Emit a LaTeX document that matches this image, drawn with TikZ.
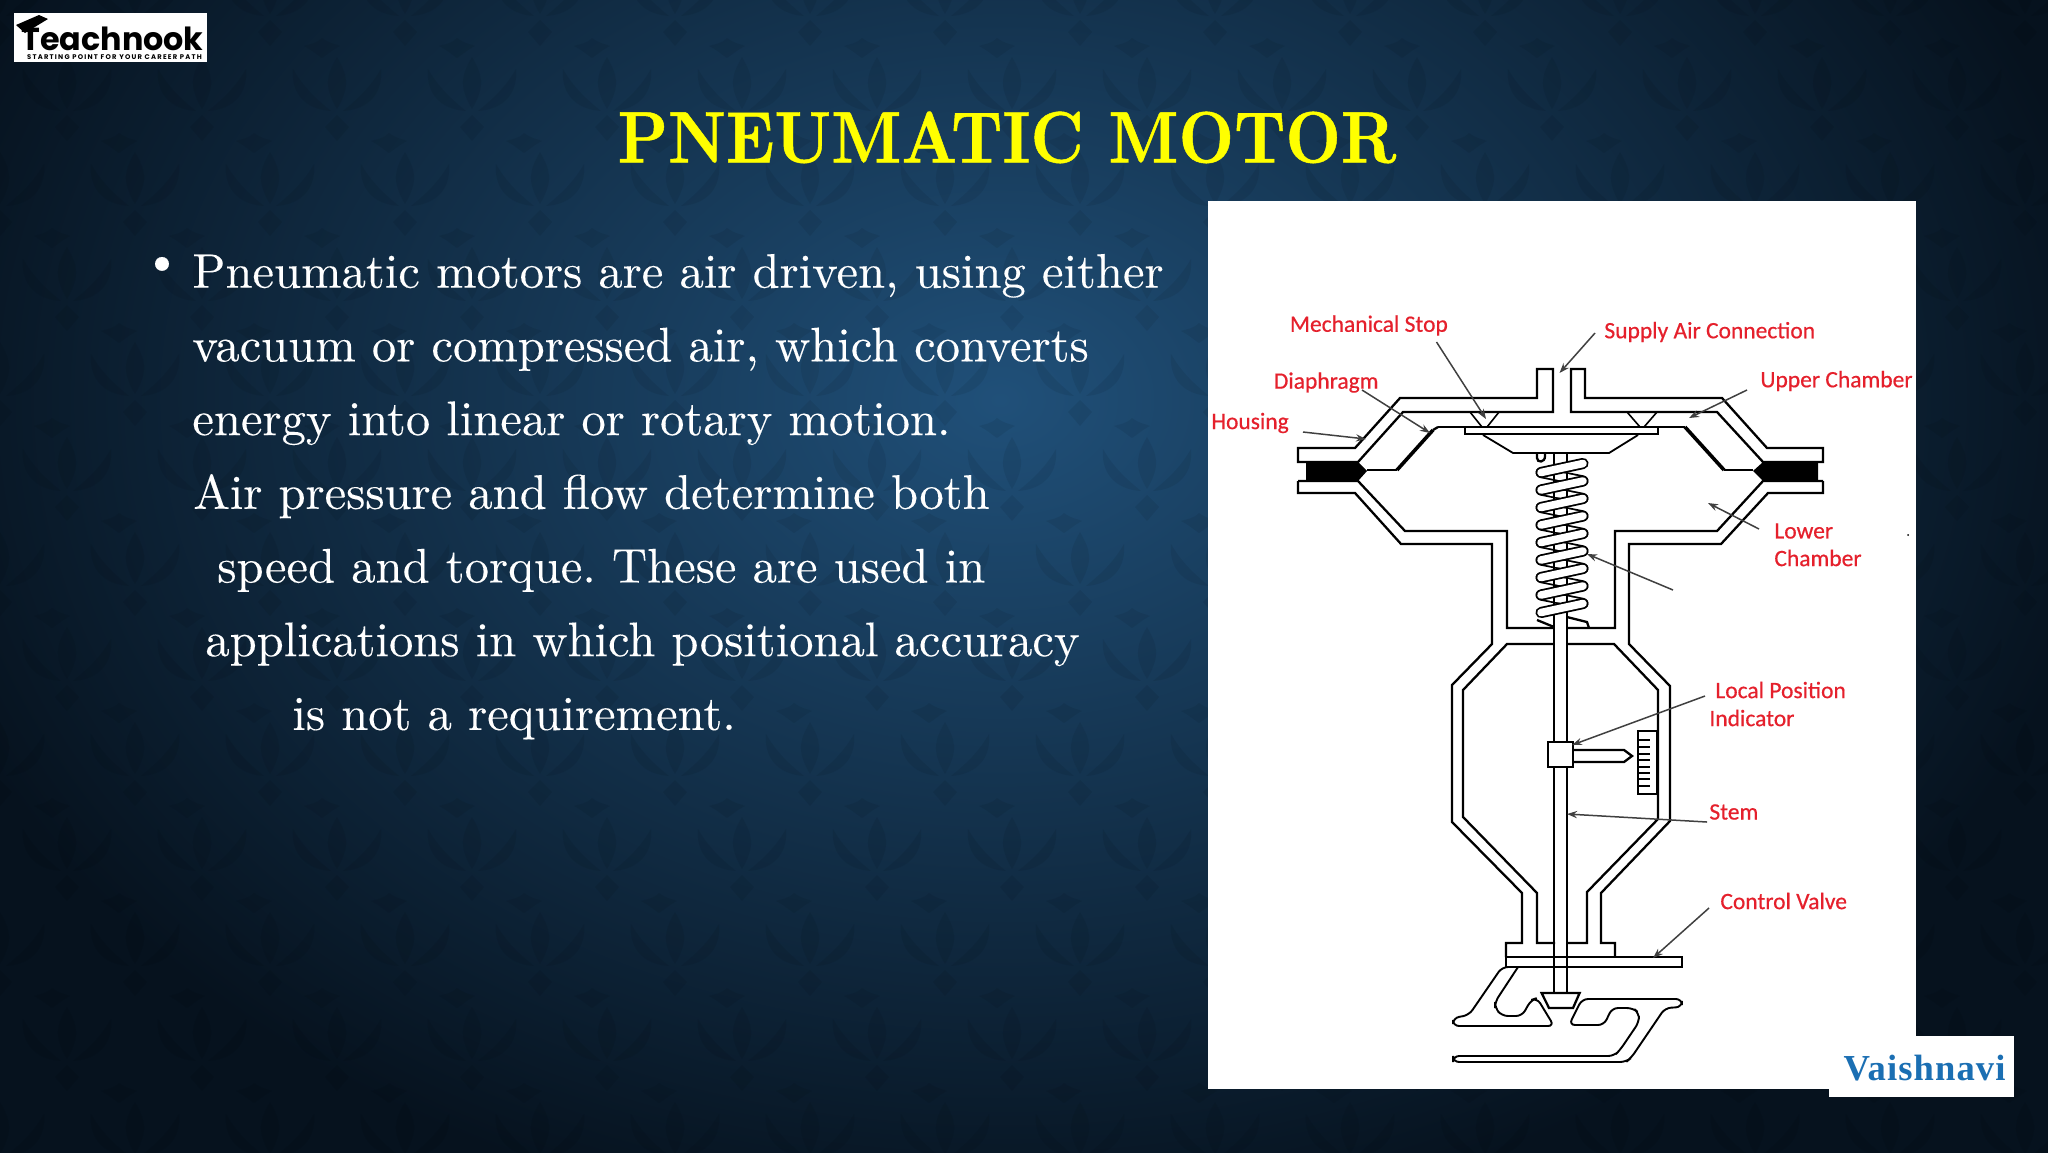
\documentclass[tikz,border=0pt]{standalone}
\usepackage{fontspec}
\usetikzlibrary{arrows.meta}
\newfontfamily\lblfont[FakeBold=0.5]{Carlito}
\newfontfamily\logofont{Poppins}
\newfontfamily\vfont[LetterSpace=3]{Liberation Serif}
\newfontfamily\bodyf[FakeBold=0.15]{lmroman10-regular.otf}
\newfontfamily\titlef[FakeStretch=0.88,FakeBold=0.6]{lmroman10-bold.otf}
\definecolor{bgdark}{HTML}{06121E}
\definecolor{bglight}{HTML}{205079}
\definecolor{lblred}{HTML}{E5202C}
\definecolor{vblue}{HTML}{1B6FB3}
\definecolor{titley}{HTML}{FFFF00}
\tikzset{
  part/.style={draw=black,line width=1.15pt,line join=miter},
  thick part/.style={draw=black,line width=1.8pt},
  lead/.style={draw=black!75,line width=0.75pt,-{Stealth[length=5pt,width=3.6pt]}},
  lbl/.style={font=\lblfont\fontsize{11.75}{14}\selectfont,text=lblred,inner sep=0pt,anchor=west},
  bodyline/.style={font=\bodyf\fontsize{24.3}{28}\selectfont\frenchspacing,text=white,inner sep=0pt,anchor=base west},
  motif/.style={fill=black,opacity=0.07,draw=none}
}
\begin{document}
\begin{tikzpicture}[x=0.5pt,y=-0.5pt]
\useasboundingbox (0,0) rectangle (2048,1152);
\begin{scope}
\clip (-6,-6) rectangle (2054,1158);
\fill[bgdark] (-6,-6) rectangle (2054,1158);
\shade[inner color=bglight,outer color=bgdark] (1000,400) ellipse (1120 and 840);
\foreach \i in {0,...,15}{\foreach \j in {0,...,12}{
  \begin{scope}[shift={({\i*135+(mod(\j,2))*67},{\j*95})}]
    \fill[motif] (0,-38) .. controls (10,-20) and (14,-10) .. (0,14) .. controls (-14,-10) and (-10,-20) .. (0,-38) -- cycle;
    \fill[motif] (6,16) .. controls (26,0) and (36,-12) .. (44,-26) .. controls (46,-4) and (34,14) .. (6,16) -- cycle;
    \fill[motif] (-6,16) .. controls (-26,0) and (-36,-12) .. (-44,-26) .. controls (-46,-4) and (-34,14) .. (-6,16) -- cycle;
    \fill[motif] (0,20) -- (12,32) -- (0,46) -- (-12,32) -- cycle;
    \fill[motif] (52,38) .. controls (60,44) and (66,44) .. (70,46) .. controls (62,50) and (58,54) .. (52,58) .. controls (46,54) and (42,50) .. (34,46) .. controls (40,44) and (46,44) .. (52,38) -- cycle;
  \end{scope}}}
\end{scope}

% logo
\fill[white] (14,13) rectangle (207,62);
\node[font=\logofont\fontsize{15.9}{18}\selectfont\bfseries,inner sep=0pt,anchor=base west] (logotext) at (21,50) {Teachnook};
\fill[black] (16,25) -- (39,15) -- (48,19) -- (25,33) -- cycle;
\node[font=\logofont\fontsize{3.4}{4}\selectfont\bfseries,inner sep=0pt,anchor=center] (logosub) at (114.5,57.5) {\addfontfeature{LetterSpace=18}STARTING POINT FOR YOUR CAREER PATH};

% title
\node[font=\titlef\fontsize{36.5}{40}\selectfont,text=titley,inner sep=0pt,anchor=base] (title) at (1007,162.5) {PNEUMATIC MOTOR};

% body
\node[font=\bodyf\fontsize{24}{28}\selectfont,text=white,inner sep=0pt,anchor=center] (bullet) at (162,266) {\textbullet};
\node[bodyline] (l1) at (192,287.7) {Pneumatic motors are air driven, using either};
\node[bodyline] (l2) at (192,361.4) {vacuum or compressed air, which converts};
\node[bodyline] (l3) at (192,435.1) {energy into linear or rotary motion.};
\node[bodyline] (l4) at (193,508.8) {Air pressure and flow determine both};
\node[bodyline] (l5) at (217,582.5) {speed and torque. These are used in};
\node[bodyline] (l6) at (205,656.2) {applications in which positional accuracy};
\node[bodyline] (l7) at (292,729.9) {is not a requirement.};

% white panel
\fill[white] (1208,201) rectangle (1916,1089);

% spring, back strands
\foreach \yy in {490,507.5,525,542.5,560,577.5,595,612.5}{
  \draw[draw=black,line width=5.6pt,line cap=round] (1583,{\yy-9}) -- (1541,{\yy-17.5});
  \draw[draw=white,line width=3.8pt,line cap=round] (1583,{\yy-9}) -- (1541,{\yy-17.5});
}

% stem
\draw[part] (1554,453) -- (1554,742) (1567,453) -- (1567,742);
\draw[part] (1554,767) -- (1554,993) (1567,767) -- (1567,993);

% spring, front bands
\draw[part] (1537,453) -- (1537,458) .. controls (1537,463) and (1545,463) .. (1545,456) -- (1545,453);
\foreach \yy in {472.5,490,507.5,525,542.5,560,577.5,595,612.5}{
  \draw[draw=black,line width=5.6pt,line cap=round] (1541,\yy) -- (1583,{\yy-9});
  \draw[draw=white,line width=3.8pt,line cap=round] (1541,\yy) -- (1583,{\yy-9});
}
\draw[part] (1537,620) -- (1554,627);
\draw[part] (1567,617) -- (1587,622) -- (1589,628);

% upper housing
\draw[part] (1298,448) -- (1355,448) -- (1400,398) -- (1537,398) -- (1537,369) -- (1553,369) -- (1553,412) -- (1403,412) -- (1358,462) -- (1298,462) -- cycle;
\draw[part] (1571,369) -- (1585,369) -- (1585,398) -- (1722,398) -- (1767,448) -- (1823,448) -- (1823,462) -- (1763,462) -- (1717,412) -- (1571,412) -- cycle;

% lower housing
\draw[part] (1298,481) -- (1358,481) -- (1405,531) -- (1507,531) -- (1507,628) -- (1554,628);
\draw[part] (1823,481) -- (1763,481) -- (1717,531) -- (1615,531) -- (1615,628) -- (1567,628);
\draw[part] (1298,481) -- (1298,493) -- (1355,493) -- (1401,544) -- (1492,544) -- (1492,644) -- (1452,685) -- (1452,822) -- (1522,893) -- (1522,943) -- (1506,943) -- (1506,957);
\draw[part] (1823,481) -- (1823,493) -- (1768,493) -- (1721,544) -- (1629,544) -- (1629,644) -- (1670,686) -- (1670,821) -- (1601,893) -- (1601,943) -- (1615,943) -- (1615,957);
\draw[part] (1554,644) -- (1507,644) -- (1463,690) -- (1463,817) -- (1537,893) -- (1537,943) -- (1555,943);
\draw[part] (1567,644) -- (1614,644) -- (1658,690) -- (1658,819) -- (1587,892) -- (1587,943) -- (1567,943);

% diaphragm seals
\fill[black] (1306,462) -- (1358,462) -- (1367,471) -- (1358,481) -- (1306,481) -- cycle;
\fill[black] (1818,462) -- (1763,462) -- (1753,471) -- (1763,481) -- (1818,481) -- cycle;
\draw[part] (1367,470) -- (1397,470);
\draw[thick part] (1397,470) -- (1433,430);
\draw[part] (1433,430) -- (1438,427);
\draw[thick part,line width=1.4pt] (1438,427) -- (1685,427);
\draw[thick part] (1685,427) -- (1724,470);
\draw[part] (1724,470) -- (1753,470);

% plate
\draw[part] (1465,427) -- (1465,434) -- (1658,434) -- (1658,427);
\draw[part,line width=0.9pt] (1483,435) -- (1513,453) -- (1609,453) -- (1638,435);

% mechanical stops
\draw[part,line width=0.8pt] (1470,412) -- (1482,427) (1499,412) -- (1487,427);
\draw[part,line width=0.8pt] (1627,412) -- (1640,427) (1657,412) -- (1644,427);

% position indicator
\draw[part,fill=white] (1548,742) rectangle (1573,767);
\draw[part] (1573,750) -- (1624,750) -- (1632,756) -- (1624,762) -- (1573,762);
\draw[part] (1638,731) rectangle (1657,794);
\foreach \ty in {740,747,754,760,767,773,779,786}{
  \draw[part,line width=0.8pt] (1638,\ty) -- (1650,\ty);
}

% flange
\draw[part] (1506,957) -- (1682,957) -- (1682,967) -- (1506,967) -- cycle;

% valve plug
\draw[part] (1541.6,993) -- (1579.6,993) -- (1573,1008) -- (1549,1008) -- cycle;

% valve body
\draw[part,line width=0.95pt,rounded corners=3pt] (1506,967) -- (1502,967) -- (1469,1015) -- (1453,1018) -- (1453,1026) -- (1554,1026) -- (1537,998) -- (1531,1000) -- (1522,1016) -- (1502,1016) -- (1495,1008) -- (1495,1002) -- (1518,967);
\draw[part,line width=0.95pt,rounded corners=3pt] (1682,999) -- (1682,1007) -- (1665,1008) -- (1631,1058) -- (1626,1062) -- (1453,1062) -- (1453,1056) -- (1614,1056) -- (1620,1050) -- (1639,1022) -- (1639,1013) -- (1633,1008) -- (1612,1008) -- (1604,1025) -- (1569,1025) -- (1582,999) -- cycle;

% stray dot
\fill[black] (1908,535) circle (1);

% labels
\node[lbl] (mechstop) at (1289.5,325.5) {Mechanical Stop};
\node[lbl] (supply) at (1604,332) {Supply Air Connection};
\node[lbl] (diaph) at (1273.5,382.5) {Diaphragm};
\node[lbl] (housing) at (1211,423) {Housing};
\node[lbl] (upper) at (1760,381) {Upper Chamber};
\node[lbl] (lower) at (1774,531) {Lower};
\node[lbl] (chamber) at (1774,558) {Chamber};
\node[lbl] (localpos) at (1715,690) {Local Position};
\node[lbl] (indicator) at (1709,718) {Indicator};
\node[lbl] (stemlbl) at (1709,812) {Stem};
\node[lbl] (cvalve) at (1720,901) {Control Valve};

% leader ends
\coordinate (a1) at (1436.5,342); \coordinate (b1) at (1486,419);
\coordinate (a2) at (1595,333);   \coordinate (b2) at (1559.5,373);
\coordinate (a3) at (1362,390);   \coordinate (b3) at (1430,433);
\coordinate (a4) at (1303,432);   \coordinate (b4) at (1366,439);
\coordinate (a5) at (1747,390);   \coordinate (b5) at (1689,418);
\coordinate (a6) at (1759,529);   \coordinate (b6) at (1708,503);
\coordinate (a7) at (1673,590);   \coordinate (b7) at (1587,554);
\coordinate (a8) at (1705,696);   \coordinate (b8) at (1572,745);
\coordinate (a9) at (1707,822);   \coordinate (b9) at (1567,814);
\coordinate (a10) at (1709,908);  \coordinate (b10) at (1653,958);
\draw[lead] (a1) -- (b1);
\draw[lead] (a2) -- (b2);
\draw[lead] (a3) -- (b3);
\draw[lead] (a4) -- (b4);
\draw[lead] (a5) -- (b5);
\draw[lead] (a6) -- (b6);
\draw[lead] (a7) -- (b7);
\draw[lead] (a8) -- (b8);
\draw[lead] (a9) -- (b9);
\draw[lead] (a10) -- (b10);

% watermark box
\fill[white] (1829,1036) rectangle (2014,1097);
\node[font=\vfont\fontsize{18.3}{20}\selectfont\bfseries,text=vblue,inner sep=0pt,anchor=center] (vaish) at (1924.5,1068) {Vaishnavi};
\end{tikzpicture}
\end{document}
